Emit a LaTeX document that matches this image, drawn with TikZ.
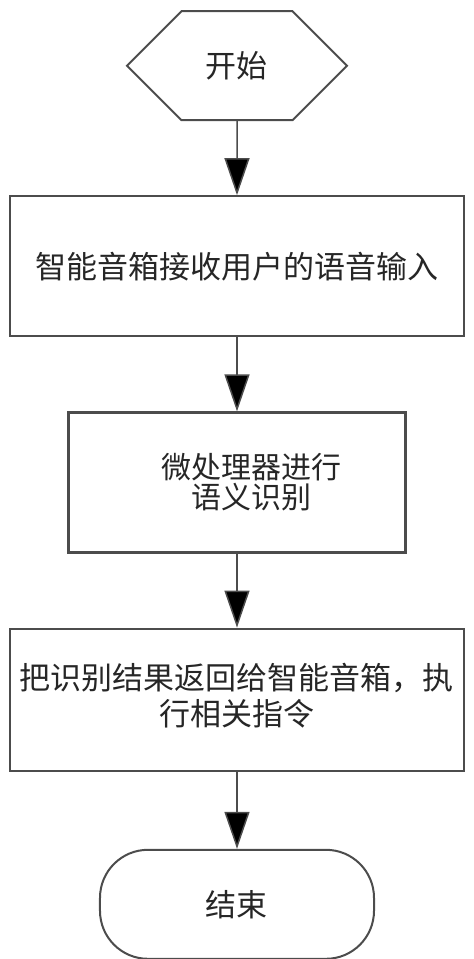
\documentclass[tikz,border=0pt]{standalone}
\usepackage{fontspec}
\newfontfamily\cjk{Noto Sans CJK SC}
\usetikzlibrary{matrix,arrows.meta,shapes.symbols}

\tikzset{
  startnode/.style={signal, signal to=west and east, signal pointer angle=90,
    draw=black!70, line width=2pt, minimum width=220pt, minimum height=109pt, inner sep=0pt},
  procbox/.style={rectangle, draw=black!70, line width=2.2pt, minimum width=454pt,
    minimum height=140pt, inner sep=0pt},
  endnode/.style={rectangle, rounded corners=48pt, draw=black!70, line width=2pt,
    minimum width=274pt, minimum height=109pt, inner sep=0pt},
  flow/.style={black!70, line width=1.5pt, -{Triangle[length=37pt,width=25pt,fill=black]}}
}

\begin{document}
\begin{tikzpicture}[x=1pt, y=-1pt, font=\cjk\fontsize{31}{33}\selectfont, text=black!85]
  \useasboundingbox (0,0) rectangle (474,959);
  \matrix (m) [matrix of nodes, row sep=74pt, inner sep=0pt, anchor=north] at (237,10)
  {
    |[startnode]| 开始 \\
    |[procbox]| 智能音箱接收用户的语音输入 \\
    |[procbox, minimum width=337pt]| \\
    |[procbox, minimum height=142pt]| \begin{tabular}{@{}c@{}}把识别结果返回给智能音箱，执\\行相关指令\end{tabular} \\[3pt]
    |[endnode]| 结束 \\
  };
  % text of the narrow box sits a bit right of its centre
  \node[align=center, inner sep=0pt, font=\cjk\fontsize{30}{30}\selectfont] (m-3-text)
    at ([xshift=14pt]m-3-1.center) {微处理器进行\\语义识别};
  \path[flow]
  (m-1-1) edge (m-2-1)
  (m-2-1) edge (m-3-1)
  (m-3-1) edge (m-4-1)
  (m-4-1) edge (m-5-1)
  ;
\end{tikzpicture}
\end{document}
